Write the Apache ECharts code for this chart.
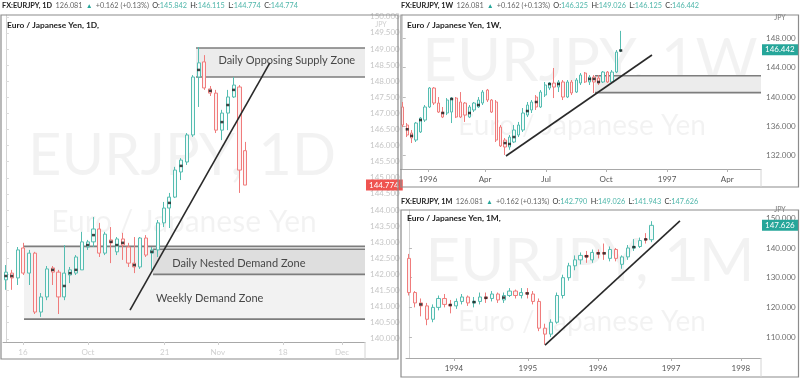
<!DOCTYPE html>
<html><head><meta charset="utf-8">
<script src="https://cdn.jsdelivr.net/npm/echarts@6/dist/echarts.min.js"></script>
<style>html,body{margin:0;padding:0;background:#fff}#c{width:800px;height:380px}</style>
</head><body><div id="c"></div>
<script>
// ---------- DATA ----------
// candles: [open, close, low, high]
const dCandles = [
[141.83,142.07,141.52,142.29],[142.04,141.89,141.52,142.14],[141.89,142.76,141.67,142.85],[142.82,142.04,141.98,142.98],
[142.04,142.66,141.67,142.76],[142.66,140.83,140.77,142.70],[140.83,141.30,140.68,141.42],[141.30,142.17,141.20,142.26],
[142.20,142.07,141.67,142.26],[142.07,141.30,140.77,142.14],[141.30,142.04,141.20,142.91],[141.98,142.14,141.73,142.23],
[142.04,142.54,141.98,142.60],[142.14,143.01,142.14,143.32],[142.85,143.01,142.76,143.07],[143.01,143.41,142.85,143.78],
[143.41,142.66,142.54,143.60],[142.66,143.25,142.60,143.32],[143.07,142.98,142.35,143.47],[142.70,143.10,142.60,143.16],
[143.10,142.91,142.45,143.29],[142.85,142.35,142.23,142.98],[142.35,142.23,142.04,143.16],[142.23,143.13,142.17,143.16],
[143.13,142.60,142.54,143.22],[142.66,142.76,142.14,142.85],[142.76,143.60,142.54,143.69],[143.60,144.06,143.47,144.25],
[144.06,144.40,143.44,144.53],[144.40,145.24,144.37,145.34],[145.18,145.55,144.93,145.61],[145.49,146.33,145.40,146.39],
[146.33,148.13,146.27,148.19],[148.13,148.57,147.20,149.06],[148.60,147.79,147.73,148.81],[147.76,147.63,147.54,147.85],
[147.63,146.48,146.39,147.73],[146.48,147.01,146.17,147.11],[147.01,147.51,146.48,147.73],[147.51,147.88,147.48,148.13],
[147.82,145.24,144.53,147.88],[145.842,144.774,144.774,146.115]
];
const dDots = [[0,141.95],[1,141.95],[8,142.14],[10,141.64],[11,142.04],[12,142.14],[14,142.91],[15,143.22],[18,143.01],
[19,142.91],[20,142.98],[22,142.29],[25,142.70],[28,144.22],[30,145.37],[33,148.35],[35,147.70],[37,146.73],[38,147.26],[39,147.73]];
const dTickLabels = ['16','Oct','21','Nov','18','Dec'];
const dTickAt = [2.92,14.05,27.2,36.3,47.45,57.55];
const dYTicks = [140,140.5,141,141.5,142,142.5,143,143.5,144,144.5,145,145.5,146,146.5,147,147.5,148,148.5,149,149.5,150];
// zones: [fromIndex, toIndex, top, bottom]
const dZoneNames = ['Weekly Demand Zone','Daily Nested Demand Zone','Daily Opposing Supply Zone'];
const dZones = [[3.1,61.5,142.87,140.61],[25.2,61.5,142.78,142.0],[32.55,61.5,149.03,148.13]];
const dTrend = [[21.25,140.89],[45.2,148.57]];

const wCandles = [
[138.64,136.18,135.91,139.32],[136.18,134.82,134.54,136.45],[135.09,134.41,133.72,135.50],[134.13,136.45,133.86,136.60],
[135.23,137.13,135.09,137.27],[136.86,138.64,136.60,138.91],[138.64,141.23,138.50,141.36],[141.23,139.18,138.91,141.36],
[139.18,137.95,137.82,140.00],[137.95,137.27,137.13,138.64],[137.82,139.59,137.54,139.86],[137.95,139.86,136.45,140.00],
[139.86,137.27,137.13,140.00],[139.32,137.27,137.13,140.68],[139.18,137.54,136.60,139.32],[137.27,138.64,137.13,138.91],
[138.23,139.18,137.95,139.32],[138.64,139.59,138.50,140.00],[139.18,140.68,138.91,140.95],[140.95,139.59,139.32,141.10],
[139.59,137.95,137.82,139.73],[139.32,134.13,133.86,139.59],[135.91,133.32,133.18,136.18],[134.13,133.18,132.09,134.41],
[133.18,134.54,132.80,134.82],[133.86,135.50,133.72,136.18],[134.82,136.18,134.54,136.60],[135.50,137.82,135.23,138.50],
[137.54,138.91,137.27,139.32],[138.23,139.32,137.82,139.59],[140.00,138.64,138.23,140.27],[138.64,140.68,138.50,140.95],
[140.27,141.64,140.00,142.05],[141.23,141.91,140.95,142.05],[141.91,141.36,139.86,143.96],[141.36,142.05,140.68,142.32],
[142.05,140.00,139.59,142.32],[140.00,142.05,139.86,142.32],[142.05,140.55,140.27,142.32],[140.68,142.32,140.55,142.59],
[141.91,143.00,141.64,143.27],[143.27,142.05,141.91,143.41],[142.05,142.73,141.64,143.00],[142.73,142.05,140.55,143.00],
[142.59,141.91,141.64,143.00],[142.05,143.41,141.91,143.55],[143.41,142.05,141.91,143.55],[142.05,143.41,141.91,143.68],
[143.41,146.14,143.27,146.41],[146.325,146.442,146.125,149.026]
];
const wDots = [[1,135.6],[2,134.7],[4,136.86],[9,137.82],[11,139.73],[15,137.82],[17,138.91],[23,133.72],[24,133.59],[25,134.54],
[28,138.09],[30,139.32],[33,141.77],[35,141.77],[42,142.46],[43,142.46],[44,142.05],[49,146.34]];
const wTickLabels = ['1996','Apr','Jul','Oct','1997','Apr'];
const wTickAt = [5.68,18.5,32.2,45.7,59.4,72.9];
const wYTicks = [132,136,140,144,148];
const wZones = [[43.2,80.5,142.9,140.6]];
const wTrend = [[23.2,131.95],[56.0,145.73]];

const mCandles = [
[136.5,125.0,124.0,138.0],[125.0,121.5,120.0,125.5],[121.5,120.5,117.0,123.0],[120.5,116.0,114.0,121.5],
[116.0,120.0,115.0,121.0],[120.0,123.0,119.0,124.0],[123.0,121.0,120.0,124.5],[121.0,120.5,118.0,122.5],
[120.5,122.0,119.5,123.0],[122.0,123.5,121.0,124.5],[123.5,121.5,120.5,124.0],[121.5,122.0,120.0,123.5],
[122.0,123.5,121.0,125.0],[123.5,123.0,121.5,125.0],[123.0,124.5,122.0,125.5],[124.5,122.5,121.5,125.0],
[122.5,124.0,121.5,125.0],[124.0,125.5,123.5,126.5],[125.5,124.0,123.0,126.0],[124.0,125.0,123.0,126.5],
[125.0,124.5,123.0,126.5],[124.5,122.0,121.0,125.5],[122.0,113.0,112.0,123.0],[113.0,111.0,107.5,114.5],
[111.0,115.0,110.0,116.0],[115.0,124.0,114.5,125.0],[124.0,130.0,123.0,131.0],[130.0,134.0,129.0,135.0],
[134.0,136.0,132.5,137.5],[136.0,137.5,134.5,138.5],[137.5,137.0,135.0,139.0],[136.0,138.5,135.0,139.5],
[138.5,138.0,136.5,139.5],[138.5,138.0,136.0,141.5],[136.5,139.5,135.5,140.5],[139.5,136.5,135.5,140.0],
[134.5,137.0,133.0,137.5],[137.0,140.0,136.0,141.0],[140.0,140.5,139.0,143.0],[140.5,142.5,140.0,143.5],
[143.0,142.79,141.5,145.0],[142.79,147.626,141.943,149.026]
];
const mDots = [[2,121.0],[7,120.8],[11,121.8],[13,123.2],[16,123.3],[20,124.7],[30,137.2],[32,138.2],[33,138.2],[38,140.3],[40,142.9]];
const mTickLabels = ['1994','1995','1996','1997','1998'];
const mTickAt = [7.61,20.1,31.95,44.3,56.1];
const mYTicks = [110,120,130,140,150];
const mTrend = [[23.0,107.3],[45.8,149.1]];

const headChange = '126.081';
const headDelta = '+0.162 (+0.13%)';

// ---------- CHART ----------
const FONT = 'Lato, "Open Sans", sans-serif';
const GREEN = '#55bdb1', RED = '#f07c7c';
const panels = [
  {n:62, cands:dCandles, dots:dDots, ticks:dTickLabels, tickAt:dTickAt, yTicks:dYTicks, zones:dZones, trend:dTrend,
   grid:{left:3, top:15, width:362, height:327}, ymin:139.9, ymax:150.056, labColor:'#c6c6c6', tag:'#ef5350'},
  {n:81, cands:wCandles, dots:wDots, ticks:wTickLabels, tickAt:wTickAt, yTicks:wYTicks, zones:wZones, trend:wTrend,
   grid:{left:400.5, top:15, width:360.5, height:154}, ymin:130.18, ymax:151.19, labColor:'#6f6f6f', tag:'#26a69a'},
  {n:60, cands:mCandles, dots:mDots, ticks:mTickLabels, tickAt:mTickAt, yTicks:mYTicks, zones:[], trend:mTrend,
   grid:{left:406, top:210, width:355, height:148}, ymin:102.96, ymax:152.79, labColor:'#6f6f6f', tag:'#26a69a'}
];
const zoneFill = [['#f2f2f2','#dedede','#ececec'], ['#ececec']];
const zoneLabelAt = [[[34.9,141.24],[39.9,142.35],[48.1,148.63]], []];

const grids = [], xAxes = [], yAxes = [], series = [];
panels.forEach((p, g) => {
  grids.push(Object.assign({containLabel:false}, p.grid));
  const cats = Array.from({length:p.n}, (_, i) => String(i));
  xAxes.push({type:'category', gridIndex:g, position:'bottom', data:cats, boundaryGap:true,
    axisLine:{show:true, lineStyle:{color:'#a8a8a8', width:1}}, axisTick:{show:false}, axisLabel:{show:false}, splitLine:{show:false}});
  xAxes.push({type:'value', gridIndex:g, position:'bottom', min:-0.5, max:p.n-0.5,
    axisLine:{show:false}, splitLine:{show:false},
    axisTick:{show:true, customValues:p.tickAt, length:3, lineStyle:{color:g===0?'#d0d0d0':'#b0b0b0'}},
    axisLabel:{show:true, customValues:p.tickAt, margin:6, fontSize:8, fontFamily:FONT, color:g===0?'#cfcfcf':'#555',
      formatter:(v) => { const i = p.tickAt.indexOf(v); return i >= 0 ? p.ticks[i] : ''; }}});
  yAxes.push({type:'value', gridIndex:g, position:'right', min:p.ymin, max:p.ymax,
    axisLine:{show:true, lineStyle:{color:'#d4d4d4'}}, splitLine:{show:false},
    axisTick:{show:true, customValues:p.yTicks, length:3, lineStyle:{color:g===0?'#dadada':'#bbb'}},
    axisLabel:{show:true, customValues:p.yTicks, margin:5, fontSize:8, fontFamily:FONT, color:p.labColor,
      formatter:(v) => v.toFixed(3)}});
  const xc = 2*g, xv = 2*g+1;
  if (p.zones.length) {
    series.push({type:'custom', xAxisIndex:xv, yAxisIndex:g, z:1, silent:true, data:p.zones,
      renderItem:(params, api) => {
        const i = params.dataIndex;
        const a = api.coord([api.value(0), api.value(2)]), b = api.coord([api.value(1), api.value(3)]);
        const kids = [
          {type:'rect', shape:{x:a[0], y:a[1], width:b[0]-a[0], height:b[1]-a[1]}, style:{fill:zoneFill[g][i]}},
          {type:'line', shape:{x1:a[0], y1:a[1], x2:b[0], y2:a[1]}, style:{stroke:'#7d7d7d', lineWidth:1.6}},
          {type:'line', shape:{x1:a[0], y1:b[1], x2:b[0], y2:b[1]}, style:{stroke:'#7d7d7d', lineWidth:1.6}}
        ];
        if (g === 0) {
          const t = api.coord(zoneLabelAt[g][i]);
          kids.push({type:'text', x:t[0], y:t[1], style:{text:dZoneNames[i], fill:'#474747', font:'11px ' + FONT,
            align:'center', verticalAlign:'middle', textAlign:'center', textVerticalAlign:'middle'}});
        }
        return {type:'group', children:kids};
      }});
  }
  const last = p.cands[p.cands.length-1];
  series.push({type:'candlestick', xAxisIndex:xc, yAxisIndex:g, z:3, data:p.cands, barWidth:'62%',
    itemStyle:{color:'#f3fbfa', color0:'#fdf1f1', borderColor:GREEN, borderColor0:RED, borderWidth:1}});
  series.push({type:'scatter', xAxisIndex:xv, yAxisIndex:g, z:4, symbol:'rect', symbolSize:[3,2.5], silent:true,
    itemStyle:{color:'#151515'}, data:p.dots});
  series.push({type:'line', xAxisIndex:xv, yAxisIndex:g, z:5, symbol:'none', silent:true, data:p.trend,
    lineStyle:{color:'#2a2a2a', width:1.6}});
  // last-price tag on the price axis
  series.push({type:'line', xAxisIndex:xv, yAxisIndex:g, z:20, symbol:'none', silent:true, data:[],
    markLine:{symbol:'none', silent:true, animation:false, precision:3, lineStyle:{color:'rgba(0,0,0,0)', width:0},
      label:{show:true, position:'end', distance:1, formatter:(q) => Number(q.value).toFixed(3), backgroundColor:p.tag,
        color:'#fff', fontSize:8, fontFamily:FONT, padding:[2,4,1,3]},
      data:[{yAxis:last[1]}]}});
});

function header(x, y, tf, c) {
  const f = (v) => v.toFixed(3);
  return {type:'text', x:x, y:y, z:50, style:{
    text:'{b|FX:EURJPY, ' + tf + '} {g|' + headChange + '} {u|▲} {g|' + headDelta + '} {k|O:}{v|' + f(c[0]) + '} {k|H:}{v|' + f(c[3]) + '} {k|L:}{v|' + f(c[2]) + '} {k|C:}{v|' + f(c[1]) + '}',
    verticalAlign:'middle', textVerticalAlign:'middle',
    rich:{
      b:{fill:'#222', color:'#222', fontWeight:'bold', fontSize:7.3, fontFamily:FONT},
      g:{fill:'#666', color:'#666', fontSize:7.3, fontFamily:FONT},
      u:{fill:'#26a69a', color:'#26a69a', fontSize:6.5, fontFamily:FONT},
      k:{fill:'#333', color:'#333', fontSize:7.3, fontFamily:FONT},
      v:{fill:'#4fb6aa', color:'#4fb6aa', fontSize:7.3, fontFamily:FONT}
    }}};
}
function txt(x, y, s, font, fill, align, z) {
  return {type:'text', x:x, y:y, z:z === undefined ? 0 : z, silent:true, style:{text:s, font:font, fill:fill,
    align:align || 'left', textAlign:align || 'left', verticalAlign:'middle', textVerticalAlign:'middle'}};
}
const WM = 'rgba(0,0,0,0.05)';
const graphics = [
  // watermarks
  txt(182, 156, 'EURJPY, 1D', '58px ' + FONT, WM, 'center', 0),
  txt(184, 222, 'Euro / Japanese Yen', '30px ' + FONT, WM, 'center', 0),
  txt(590, 62, 'EURJPY, 1W', '60px ' + FONT, WM, 'center', 0),
  txt(582, 126, 'Euro / Japanese Yen', '28px ' + FONT, WM, 'center', 0),
  txt(590, 262, 'EURJPY, 1M', '60px ' + FONT, WM, 'center', 0),
  txt(582, 322, 'Euro / Japanese Yen', '28px ' + FONT, WM, 'center', 0),
  // headers
  header(2, 6, '1D', dCandles[dCandles.length-1]),
  header(401, 6, '1W', wCandles[wCandles.length-1]),
  header(401, 202, '1M', mCandles[mCandles.length-1]),
  // panel titles
  txt(7, 25, 'Euro / Japanese Yen, 1D,', 'bold 8.4px ' + FONT, '#222', 'left', 50),
  txt(407, 25, 'Euro / Japanese Yen, 1W,', 'bold 8.4px ' + FONT, '#222', 'left', 50),
  txt(407, 218, 'Euro / Japanese Yen, 1M,', 'bold 8.4px ' + FONT, '#222', 'left', 50),
  // currency labels
  txt(381, 25, 'JPY', '7px ' + FONT, '#cfcfcf', 'center', 50),
  txt(780, 18, 'JPY', '7px ' + FONT, '#777', 'center', 50),
  txt(780, 210, 'JPY', '7px ' + FONT, '#777', 'center', 50),
  // frames
  {type:'rect', z:60, silent:true, shape:{x:1, y:15, width:397, height:344}, style:{fill:'none', stroke:'#8c8c8c', lineWidth:1.2}},
  {type:'rect', z:60, silent:true, shape:{x:401, y:15, width:397.5, height:172}, style:{fill:'none', stroke:'#8c8c8c', lineWidth:1.2}},
  {type:'rect', z:60, silent:true, shape:{x:401, y:210, width:397.5, height:167}, style:{fill:'none', stroke:'#8c8c8c', lineWidth:1.2}},
  {type:'line', z:60, silent:true, shape:{x1:365, y1:342, x2:365, y2:359}, style:{stroke:'#d4d4d4', lineWidth:1}},
  {type:'line', z:60, silent:true, shape:{x1:761, y1:169, x2:761, y2:187}, style:{stroke:'#d4d4d4', lineWidth:1}},
  {type:'line', z:60, silent:true, shape:{x1:761, y1:358, x2:761, y2:377}, style:{stroke:'#d4d4d4', lineWidth:1}}
];

const chart = echarts.init(document.getElementById('c'), null, {renderer:'canvas'});
chart.setOption({
  animation:false, backgroundColor:'#fff',
  grid:grids, xAxis:xAxes, yAxis:yAxes, series:series,
  graphic:{elements:graphics}
});
</script></body></html>
